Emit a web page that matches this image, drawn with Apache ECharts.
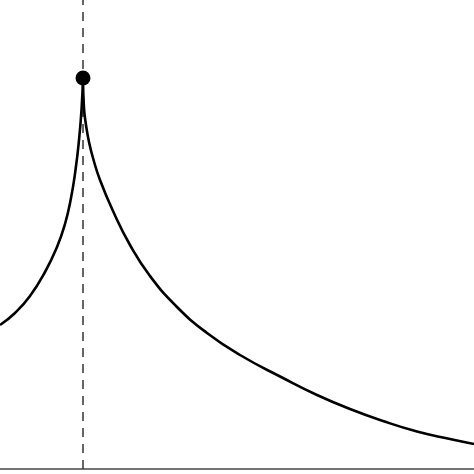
<!DOCTYPE html>
<html>
<head>
<meta charset="utf-8">
<script src="https://cdn.jsdelivr.net/npm/echarts@6/dist/echarts.min.js"></script>
<style>
  html, body { margin: 0; padding: 0; background: #fff; }
  #main-chart { width: 474px; height: 474px; }
</style>
</head>
<body>
<div id="main-chart"></div>
<script>
// values (x: distance from the peak, y: height above the baseline)
const leftX = [-0.83, -0.68, -0.53, -0.38, -0.26, -0.18, -0.12, -0.075, -0.04, -0.015, 0];
const leftY = [1.44, 1.56, 1.73, 1.97, 2.22, 2.45, 2.71, 2.99, 3.29, 3.59, 3.91];

const rightX = [0, 0.01, 0.03, 0.06, 0.10, 0.17, 0.30, 0.47, 0.67, 0.94, 1.24, 1.57, 2.00, 2.34, 2.67, 3.00, 3.34, 3.67, 3.91];
const rightY = [3.91, 3.61, 3.44, 3.27, 3.11, 2.89, 2.58, 2.24, 1.93, 1.62, 1.36, 1.14, 0.91, 0.74, 0.60, 0.48, 0.375, 0.30, 0.25];

const peak = [0, 3.91];
const xRange = [-0.83, 3.91];
const yRange = [0, 4.69];

document.addEventListener("DOMContentLoaded", () => {
    const chart = echarts.init(document.getElementById('main-chart'));

    const pairs = (xs, ys) => xs.map((x, i) => [x, ys[i]]);
    const curveStyle = { color: '#000', width: 2.6 };

    const option = {
        animation: false,
        grid: { left: 0, right: 0, top: 0, bottom: 5 },
        xAxis: {
            type: 'value',
            min: xRange[0],
            max: xRange[1],
            axisLine: { show: true, onZero: false, lineStyle: { color: '#444', width: 1.6 } },
            axisTick: { show: false },
            axisLabel: { show: false },
            splitLine: { show: false }
        },
        yAxis: {
            type: 'value',
            min: yRange[0],
            max: yRange[1],
            axisLine: { show: false },
            axisTick: { show: false },
            axisLabel: { show: false },
            splitLine: { show: false }
        },
        series: [
            {
                type: 'line',
                data: [[peak[0], yRange[0]], [peak[0], yRange[1]]],
                showSymbol: false,
                lineStyle: { color: '#333', width: 1.5, type: [9, 7] },
                z: 1
            },
            {
                type: 'line',
                data: pairs(leftX, leftY),
                smooth: 0.5,
                showSymbol: false,
                lineStyle: curveStyle,
                z: 2
            },
            {
                type: 'line',
                data: pairs(rightX, rightY),
                smooth: 0.5,
                showSymbol: false,
                lineStyle: curveStyle,
                z: 2
            },
            {
                type: 'scatter',
                data: [peak],
                symbolSize: 15,
                itemStyle: { color: '#000', opacity: 1 },
                z: 3
            }
        ]
    };
    chart.setOption(option);
});
</script>
</body>
</html>
